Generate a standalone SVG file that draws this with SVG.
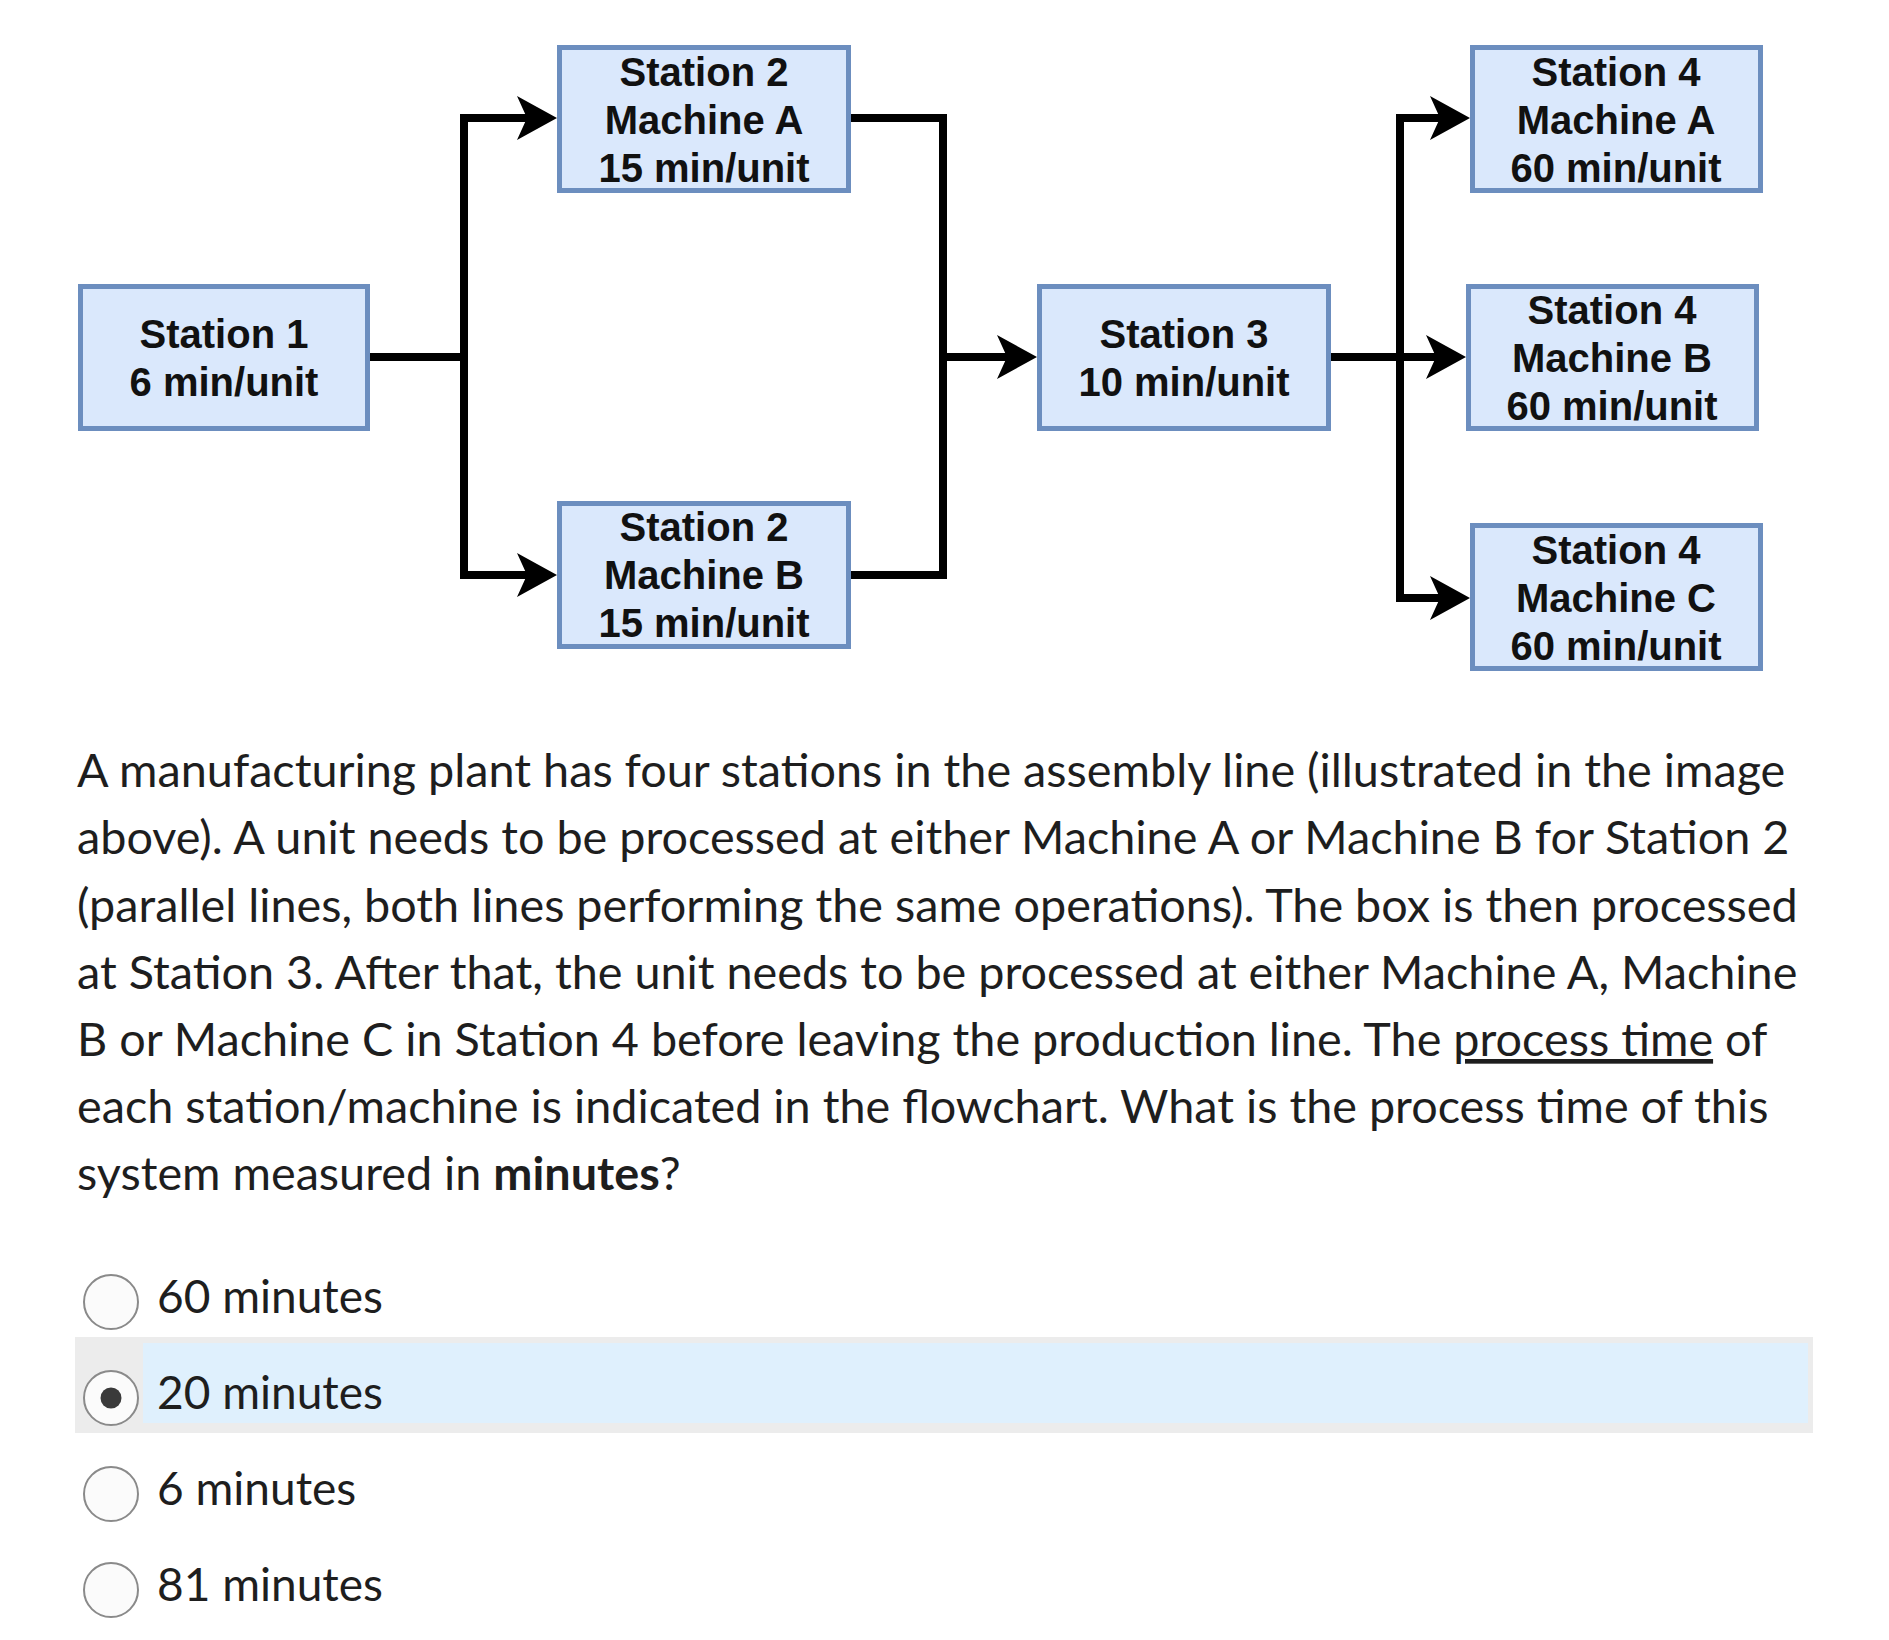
<svg xmlns="http://www.w3.org/2000/svg" width="1889" height="1640" viewBox="0 0 1889 1640">
<style>
.box{fill:#dae8fc;stroke:#6c8ebf;stroke-width:5}
.bt{font-family:"Liberation Sans",Arial,sans-serif;font-weight:bold;font-size:40px;fill:#111;text-anchor:middle}
.con{fill:none;stroke:#000;stroke-width:8;stroke-linejoin:miter}
.p{font-family:Lato,"Open Sans",sans-serif;font-size:46.75px;fill:#1e1e1e}
.ans{font-family:Lato,"Open Sans",sans-serif;font-size:46px;fill:#1e1e1e}
.radio{fill:#fbfbfb;stroke:#8a8a8a;stroke-width:2}
</style>
<defs>
<marker id="arr" markerUnits="userSpaceOnUse" viewBox="0 0 40 44" markerWidth="40" markerHeight="44" refX="10" refY="22" orient="auto">
<path d="M0,0 L40,22 L0,44 L10,22 Z" fill="#000"/>
</marker>
</defs>
<rect width="1889" height="1640" fill="#fff"/>
<g id="connectors">
<path class="con" d="M370,357 H464"/>
<path class="con" d="M464,357 V118 H527" marker-end="url(#arr)"/>
<path class="con" d="M464,357 V575 H527" marker-end="url(#arr)"/>
<path class="con" d="M851,118 H943 V575 H851"/>
<path class="con" d="M943,357 H1007" marker-end="url(#arr)"/>
<path class="con" d="M1331,357 H1436" marker-end="url(#arr)"/>
<path class="con" d="M1400,357 V118 H1440" marker-end="url(#arr)"/>
<path class="con" d="M1400,357 V598 H1440" marker-end="url(#arr)"/>
</g>
<g id="station1">
<rect class="box" x="80.5" y="286.5" width="287" height="142"/>
<text class="bt" x="224" y="348">Station 1</text>
<text class="bt" x="224" y="396">6 min/unit</text>
</g>
<g id="station2a">
<rect class="box" x="559.5" y="47.5" width="289" height="143"/>
<text class="bt" x="704" y="86">Station 2</text>
<text class="bt" x="704" y="134">Machine A</text>
<text class="bt" x="704" y="182">15 min/unit</text>
</g>
<g id="station2b">
<rect class="box" x="559.5" y="503.5" width="289" height="143"/>
<text class="bt" x="704" y="541">Station 2</text>
<text class="bt" x="704" y="589">Machine B</text>
<text class="bt" x="704" y="637">15 min/unit</text>
</g>
<g id="station3">
<rect class="box" x="1039.5" y="286.5" width="289" height="142"/>
<text class="bt" x="1184" y="348">Station 3</text>
<text class="bt" x="1184" y="396">10 min/unit</text>
</g>
<g id="station4a">
<rect class="box" x="1472.5" y="47.5" width="288" height="143"/>
<text class="bt" x="1616" y="86">Station 4</text>
<text class="bt" x="1616" y="134">Machine A</text>
<text class="bt" x="1616" y="182">60 min/unit</text>
</g>
<g id="station4b">
<rect class="box" x="1468.5" y="286.5" width="288" height="142"/>
<text class="bt" x="1612" y="324">Station 4</text>
<text class="bt" x="1612" y="372">Machine B</text>
<text class="bt" x="1612" y="420">60 min/unit</text>
</g>
<g id="station4c">
<rect class="box" x="1472.5" y="525.5" width="288" height="143"/>
<text class="bt" x="1616" y="564">Station 4</text>
<text class="bt" x="1616" y="612">Machine C</text>
<text class="bt" x="1616" y="660">60 min/unit</text>
</g>
<g id="question">
<text class="p" x="77" y="787">A manufacturing plant has four stations in the assembly line (illustrated in the image</text>
<text class="p" x="77" y="854">above). A unit needs to be processed at either Machine A or Machine B for Station 2</text>
<text class="p" x="77" y="921.5">(parallel lines, both lines performing the same operations). The box is then processed</text>
<text class="p" x="77" y="988.5">at Station 3. After that, the unit needs to be processed at either Machine A, Machine</text>
<text class="p" x="77" y="1056">B or Machine C in Station 4 before leaving the production line. The <tspan text-decoration="underline">process time</tspan> of</text>
<text class="p" x="77" y="1123">each station/machine is indicated in the flowchart. What is the process time of this</text>
<text class="p" x="77" y="1190">system measured in <tspan font-weight="bold">minutes</tspan>?</text>
</g>
<g id="answers">
<rect x="75" y="1337" width="1738" height="96" fill="#ececec"/>
<rect x="143" y="1343" width="1665" height="80" fill="#dff0fd"/>
<circle class="radio" cx="111" cy="1302" r="27"/>
<text class="ans" x="157" y="1313">60 minutes</text>
<circle class="radio" cx="111" cy="1398" r="27"/>
<circle cx="111" cy="1398" r="10.5" fill="#3a3a3a"/>
<text class="ans" x="157" y="1409">20 minutes</text>
<circle class="radio" cx="111" cy="1494" r="27"/>
<text class="ans" x="157" y="1505">6 minutes</text>
<circle class="radio" cx="111" cy="1590" r="27"/>
<text class="ans" x="157" y="1601">81 minutes</text>
</g>
</svg>
